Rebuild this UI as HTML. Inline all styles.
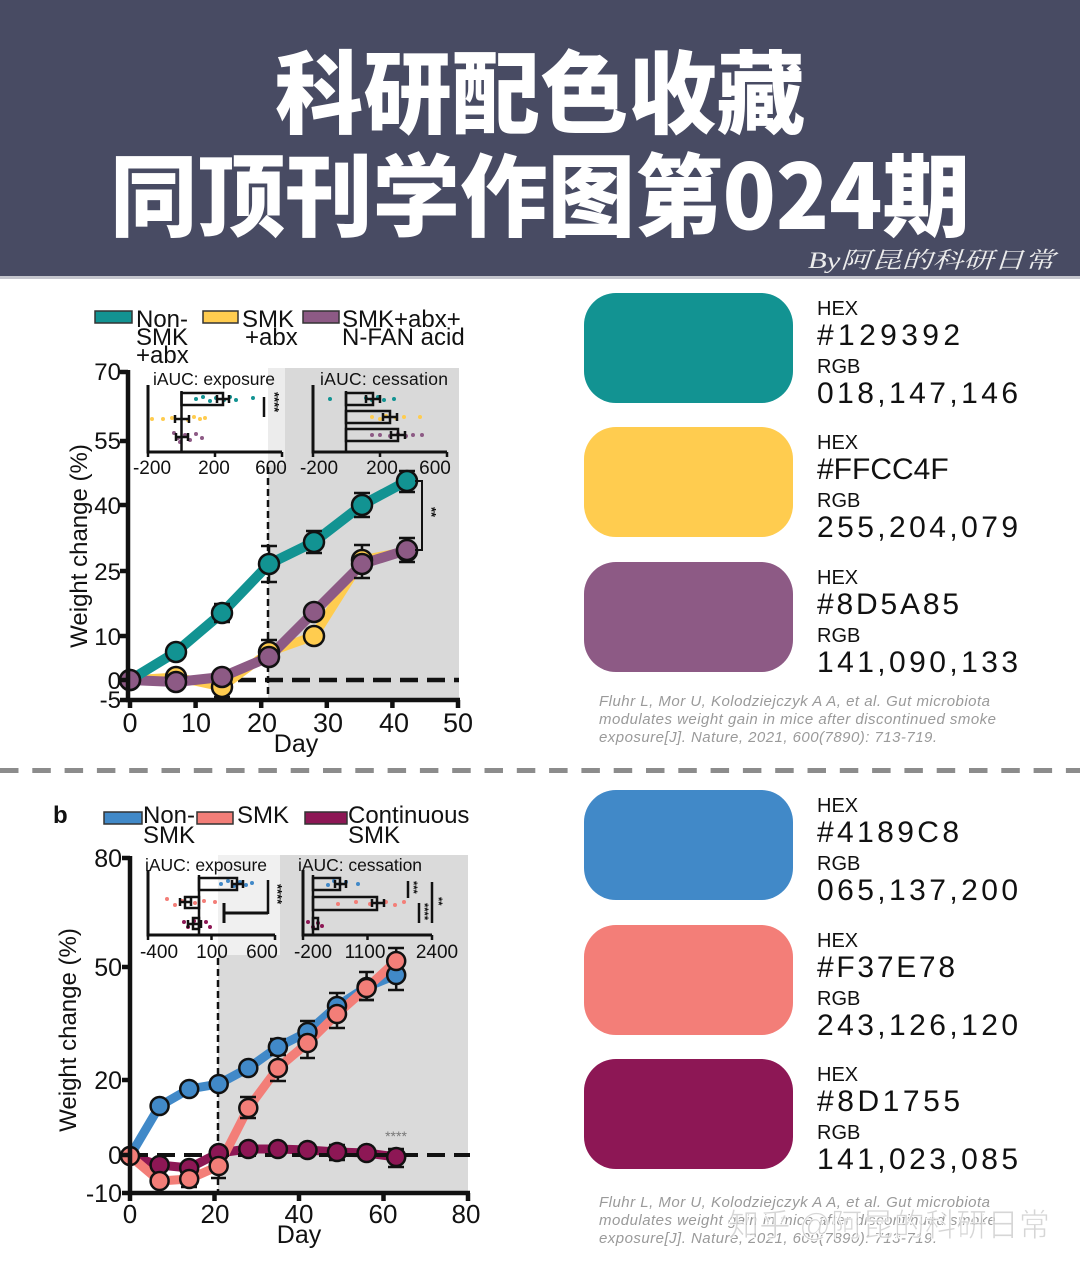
<!DOCTYPE html>
<html><head><meta charset="utf-8"><style>html,body{margin:0;padding:0;background:#fff;}svg{display:block;}</style></head>
<body>
<svg width="1080" height="1269" viewBox="0 0 1080 1269" xmlns="http://www.w3.org/2000/svg" font-family="'Liberation Sans', Arial, sans-serif">
<rect x="0" y="0" width="1080" height="1269" fill="#ffffff"/>
<!-- Header -->
<rect x="0" y="0" width="1080" height="277" fill="#484b63"/>
<rect x="0" y="276" width="1080" height="3" fill="#c4c5cd"/>
<text x="540" y="126" text-anchor="middle" font-family="'Noto Sans CJK SC','WenQuanYi Zen Hei',sans-serif" font-weight="900" font-size="90" fill="#ffffff" textLength="530" lengthAdjust="spacingAndGlyphs">科研配色收藏</text>
<text x="540" y="229" text-anchor="middle" font-family="'Noto Sans CJK SC','WenQuanYi Zen Hei',sans-serif" font-weight="900" font-size="90" fill="#ffffff" textLength="860" lengthAdjust="spacingAndGlyphs">同顶刊学作图第024期</text>
<text x="808" y="268" font-family="'Liberation Serif','Noto Serif CJK SC',serif" font-style="italic" font-size="23" fill="#ececec" textLength="247" lengthAdjust="spacingAndGlyphs">By阿昆的科研日常</text>

<!-- separator -->
<line x1="0" y1="770.5" x2="1080" y2="770.5" stroke="#8c8c8c" stroke-width="5" stroke-dasharray="18.5 13.8"/>

<!-- Swatches -->
<g>
<rect x="584" y="293" width="209" height="110" rx="32" fill="#129392"/>
<rect x="584" y="427" width="209" height="110" rx="32" fill="#FFCC4F"/>
<rect x="584" y="562" width="209" height="110" rx="32" fill="#8D5A85"/>
<rect x="584" y="790" width="209" height="110" rx="32" fill="#4189C8"/>
<rect x="584" y="925" width="209" height="110" rx="32" fill="#F37E78"/>
<rect x="584" y="1059" width="209" height="110" rx="32" fill="#8D1755"/>
</g>
<g fill="#111">
<g font-size="20"><text x="817" y="315">HEX</text><text x="817" y="373">RGB</text>
<text x="817" y="449">HEX</text><text x="817" y="507">RGB</text>
<text x="817" y="584">HEX</text><text x="817" y="642">RGB</text>
<text x="817" y="812">HEX</text><text x="817" y="870">RGB</text>
<text x="817" y="947">HEX</text><text x="817" y="1005">RGB</text>
<text x="817" y="1081">HEX</text><text x="817" y="1139">RGB</text></g>
<g font-size="30">
<text x="817" y="345" textLength="143" lengthAdjust="spacing">#129392</text><text x="817" y="403" textLength="201" lengthAdjust="spacing">018,147,146</text>
<text x="817" y="479">#FFCC4F</text><text x="817" y="537" textLength="201" lengthAdjust="spacing">255,204,079</text>
<text x="817" y="614" textLength="142" lengthAdjust="spacing">#8D5A85</text><text x="817" y="672" textLength="201" lengthAdjust="spacing">141,090,133</text>
<text x="817" y="842" textLength="142" lengthAdjust="spacing">#4189C8</text><text x="817" y="900" textLength="201" lengthAdjust="spacing">065,137,200</text>
<text x="817" y="977" textLength="138" lengthAdjust="spacing">#F37E78</text><text x="817" y="1035" textLength="201" lengthAdjust="spacing">243,126,120</text>
<text x="817" y="1111" textLength="143" lengthAdjust="spacing">#8D1755</text><text x="817" y="1169" textLength="201" lengthAdjust="spacing">141,023,085</text></g>
</g>

<!-- Citations -->
<g font-size="15" font-style="italic" fill="#9a9a9a">
<text x="599" y="706" textLength="391">Fluhr L, Mor U, Kolodziejczyk A A, et al. Gut microbiota</text>
<text x="599" y="724" textLength="397">modulates weight gain in mice after discontinued smoke</text>
<text x="599" y="742" textLength="338">exposure[J]. Nature, 2021, 600(7890): 713-719.</text>
<text x="599" y="1207" textLength="391">Fluhr L, Mor U, Kolodziejczyk A A, et al. Gut microbiota</text>
<text x="599" y="1225" textLength="397">modulates weight gain in mice after discontinued smoke</text>
<text x="599" y="1243" textLength="338">exposure[J]. Nature, 2021, 600(7890): 713-719.</text>
</g>
<text x="728" y="1236" font-family="'Liberation Sans','Noto Sans CJK SC',sans-serif" font-size="32" fill="#c8c8c8" fill-opacity="0.75" stroke="#ffffff" stroke-width="0.8" textLength="322" lengthAdjust="spacingAndGlyphs">知乎 @阿昆的科研日常</text>

<!-- ================= TOP CHART ================= -->
<rect x="95" y="311" width="37" height="12" fill="#129392" stroke="#333" stroke-width="1.5"/>
<rect x="203" y="311" width="35" height="12" fill="#FFCC4F" stroke="#333" stroke-width="1.5"/>
<rect x="303" y="311" width="36" height="12" fill="#8D5A85" stroke="#333" stroke-width="1.5"/>
<g font-size="24" fill="#111">
<text x="136" y="327">Non-</text><text x="136" y="345">SMK</text><text x="136" y="363">+abx</text>
<text x="242" y="327">SMK</text><text x="245" y="345">+abx</text>
<text x="342" y="327">SMK+abx+</text><text x="342" y="345">N-FAN acid</text>
</g>
<rect x="268" y="465" width="191" height="235" fill="#d9d9d9"/>
<rect x="285" y="368" width="174" height="97" fill="#d9d9d9"/>
<rect x="268" y="368" width="17" height="97" fill="#ececec"/>
<!-- inset exposure -->
<text x="153" y="385" font-size="17.5" fill="#111" textLength="122">iAUC: exposure</text>
<g fill="#129392"><circle cx="196" cy="399" r="2"/><circle cx="203" cy="397" r="2"/><circle cx="210" cy="401" r="2"/><circle cx="216" cy="398" r="2"/><circle cx="224" cy="400" r="2"/><circle cx="230" cy="397" r="2"/><circle cx="236" cy="400" r="2"/><circle cx="253" cy="398" r="2"/></g>
<g fill="#FFCC4F"><circle cx="152" cy="419" r="2"/><circle cx="163" cy="419" r="2"/><circle cx="172" cy="418" r="2"/><circle cx="188" cy="420" r="2"/><circle cx="194" cy="417" r="2"/><circle cx="200" cy="419" r="2"/><circle cx="205" cy="418" r="2"/></g>
<g fill="#8D5A85"><circle cx="174" cy="433" r="2"/><circle cx="178" cy="438" r="2"/><circle cx="185" cy="435" r="2"/><circle cx="190" cy="440" r="2"/><circle cx="196" cy="434" r="2"/><circle cx="202" cy="438" r="2"/><circle cx="180" cy="442" r="2"/></g>
<g stroke="#111" fill="none" stroke-width="2.5">
<polyline points="148,385 148,452 282,452" stroke-width="3"/>
<path d="M148,452v5M215,452v5M282,452v5"/>
<line x1="181.5" y1="391" x2="181.5" y2="452"/>
<rect x="181.5" y="393" width="41.5" height="12"/>
<path d="M217,399H229M217,395V403M229,395V403"/>
<path d="M175,419H189M175,415V423M189,415V423"/>
<path d="M176,437H188M176,433V441M188,433V441"/>
<line x1="264" y1="397" x2="264" y2="417"/>
</g>
<text transform="translate(270,392) rotate(90)" font-size="13" font-weight="bold" fill="#111">****</text>
<g font-size="19" fill="#111" text-anchor="middle"><text x="152" y="474">-200</text><text x="214" y="474">200</text><text x="271" y="474">600</text></g>
<!-- inset cessation -->
<text x="320" y="385" font-size="17.5" fill="#111" textLength="128">iAUC: cessation</text>
<g fill="#129392"><circle cx="330" cy="399" r="2"/><circle cx="366" cy="398" r="2"/><circle cx="372" cy="400" r="2"/><circle cx="378" cy="397" r="2"/><circle cx="384" cy="400" r="2"/><circle cx="394" cy="399" r="2"/></g>
<g fill="#FFCC4F"><circle cx="372" cy="417" r="2"/><circle cx="380" cy="419" r="2"/><circle cx="386" cy="416" r="2"/><circle cx="396" cy="418" r="2"/><circle cx="404" cy="417" r="2"/><circle cx="420" cy="417" r="2"/></g>
<g fill="#8D5A85"><circle cx="372" cy="435" r="2"/><circle cx="380" cy="435" r="2"/><circle cx="390" cy="436" r="2"/><circle cx="398" cy="434" r="2"/><circle cx="406" cy="436" r="2"/><circle cx="413" cy="435" r="2"/><circle cx="422" cy="435" r="2"/></g>
<g stroke="#111" fill="none" stroke-width="2.5">
<polyline points="313,385 313,452 447,452" stroke-width="3"/>
<path d="M313,452v5M380,452v5M447,452v5"/>
<line x1="346" y1="391" x2="346" y2="452"/>
<rect x="346" y="393" width="27" height="12"/>
<rect x="346" y="411" width="44" height="12"/>
<rect x="346" y="429" width="52" height="12"/>
<path d="M366,399H380M366,395V403M380,395V403"/>
<path d="M383,417H397M383,413V421M397,413V421"/>
<path d="M391,435H405M391,431V439M405,431V439"/>
</g>
<g font-size="19" fill="#111" text-anchor="middle"><text x="319" y="474">-200</text><text x="382" y="474">200</text><text x="435" y="474">600</text></g>
<line x1="130" y1="680" x2="459" y2="680" stroke="#111" stroke-width="4.5" stroke-dasharray="18 9"/>
<line x1="268" y1="467" x2="268" y2="700" stroke="#111" stroke-width="2.5" stroke-dasharray="7 4"/>
<g fill="none" stroke-linejoin="round" stroke-linecap="round">
<polyline points="130,680 176,677 222,687 269,652 314,636 362,560 407,551" stroke="#FFCC4F" stroke-width="9"/>
<polyline points="130,680 176,682 222,677 269,657 314,612 362,564 407,550" stroke="#8D5A85" stroke-width="10"/>
<polyline points="130,680 176,652 222,613 269,564 314,542 362,505 407,481" stroke="#129392" stroke-width="10"/>
</g>
<g stroke="#111" stroke-width="2.5" fill="none">
<path d="M222,604V622M214,604H230M214,622H230"/>
<path d="M269,546V582M261,546H277M261,582H277"/>
<path d="M314,531V553M306,531H322M306,553H322"/>
<path d="M362,493V517M354,493H370M354,517H370"/>
<path d="M407,471V492M399,471H415M399,492H415"/>
<path d="M222,676V697M214,697H230"/>
<path d="M269,640V666M261,640H277"/>
<path d="M314,629V643M306,629H322M306,643H322"/>
<path d="M362,545V578M354,545H370M354,578H370"/>
<path d="M407,538V562M399,538H415M399,562H415"/>
</g>
<g stroke="#111" stroke-width="2.5">
<circle cx="130" cy="680" r="10" fill="#FFCC4F"/><circle cx="176" cy="677" r="10" fill="#FFCC4F"/><circle cx="222" cy="687" r="10" fill="#FFCC4F"/><circle cx="269" cy="652" r="10" fill="#FFCC4F"/><circle cx="314" cy="636" r="10" fill="#FFCC4F"/><circle cx="362" cy="560" r="10" fill="#FFCC4F"/><circle cx="407" cy="551" r="10" fill="#FFCC4F"/>
<circle cx="130" cy="680" r="10" fill="#8D5A85"/><circle cx="176" cy="682" r="10" fill="#8D5A85"/><circle cx="222" cy="677" r="10" fill="#8D5A85"/><circle cx="269" cy="657" r="10" fill="#8D5A85"/><circle cx="314" cy="612" r="10" fill="#8D5A85"/><circle cx="362" cy="564" r="10" fill="#8D5A85"/><circle cx="407" cy="550" r="10" fill="#8D5A85"/>
<circle cx="176" cy="652" r="10" fill="#129392"/><circle cx="222" cy="613" r="10" fill="#129392"/><circle cx="269" cy="564" r="10" fill="#129392"/><circle cx="314" cy="542" r="10" fill="#129392"/><circle cx="362" cy="505" r="10" fill="#129392"/><circle cx="407" cy="481" r="10" fill="#129392"/>
</g>
<path d="M415,481H422V550H415" stroke="#111" stroke-width="2" fill="none"/>
<text transform="translate(427,507) rotate(90)" font-size="13" font-weight="bold" fill="#111">**</text>
<g stroke="#111" stroke-width="4.5" fill="none">
<line x1="128" y1="370" x2="128" y2="702"/>
<line x1="126" y1="700" x2="460" y2="700"/>
<path d="M120,372H128M120,441H128M120,505H128M120,571H128M120,636H128M120,680H128M120,700H128"/>
<path d="M130,700V708M195.6,700V708M261.2,700V708M326.8,700V708M392.4,700V708M458,700V708"/>
</g>
<g font-size="24" fill="#111" text-anchor="end">
<text x="121" y="380">70</text><text x="121" y="449">55</text><text x="121" y="514">40</text><text x="121" y="580">25</text><text x="121" y="645">10</text><text x="121" y="689">0</text><text x="121" y="708">-5</text>
</g>
<g font-size="27" fill="#111" text-anchor="middle">
<text x="130" y="732">0</text><text x="196" y="732">10</text><text x="262" y="732">20</text><text x="328" y="732">30</text><text x="394" y="732">40</text><text x="458" y="732">50</text>
</g>
<text x="296" y="752" font-size="25" fill="#111" text-anchor="middle">Day</text>
<text transform="translate(87,546) rotate(-90)" font-size="24" fill="#111" text-anchor="middle">Weight change (%)</text>

<!-- ================= BOTTOM CHART ================= -->
<text x="53" y="823" font-size="24" font-weight="bold" fill="#111">b</text>
<rect x="104" y="812" width="38" height="12" fill="#4189C8" stroke="#333" stroke-width="1.5"/>
<rect x="197" y="812" width="36" height="12" fill="#F37E78" stroke="#333" stroke-width="1.5"/>
<rect x="305" y="812" width="42" height="12" fill="#8D1755" stroke="#333" stroke-width="1.5"/>
<g font-size="24" fill="#111">
<text x="143" y="823">Non-</text><text x="143" y="843">SMK</text>
<text x="237" y="823">SMK</text>
<text x="348" y="823">Continuous</text><text x="348" y="843">SMK</text>
</g>
<rect x="218" y="955" width="250" height="238" fill="#dadada"/>
<rect x="280" y="855" width="188" height="100" fill="#dadada"/>
<rect x="218" y="855" width="62" height="100" fill="#f0f0f0"/>
<!-- inset exposure -->
<text x="145" y="871" font-size="17.5" fill="#111" textLength="122">iAUC: exposure</text>
<g fill="#4189C8"><circle cx="221" cy="884" r="2"/><circle cx="228" cy="881" r="2"/><circle cx="234" cy="886" r="2"/><circle cx="240" cy="882" r="2"/><circle cx="246" cy="885" r="2"/><circle cx="252" cy="883" r="2"/></g>
<g fill="#F37E78"><circle cx="167" cy="899" r="2"/><circle cx="175" cy="905" r="2"/><circle cx="182" cy="901" r="2"/><circle cx="195" cy="903" r="2"/><circle cx="204" cy="901" r="2"/><circle cx="215" cy="902" r="2"/></g>
<g fill="#8D1755"><circle cx="184" cy="922" r="2"/><circle cx="188" cy="927" r="2"/><circle cx="194" cy="921" r="2"/><circle cx="200" cy="926" r="2"/><circle cx="206" cy="922" r="2"/><circle cx="210" cy="927" r="2"/></g>
<g stroke="#111" fill="none" stroke-width="2.5">
<polyline points="148,870 148,935 275,935" stroke-width="3"/>
<path d="M148,935v5M211.5,935v5M275,935v5"/>
<line x1="199" y1="875" x2="199" y2="935"/>
<rect x="199" y="878" width="38" height="12"/>
<rect x="185" y="897" width="14" height="11"/>
<rect x="193" y="918" width="6" height="11"/>
<path d="M232,884H243M232,880V888M243,880V888"/>
<path d="M180,902H191M180,898V906M191,898V906"/>
<path d="M188,924H201M188,920V928M201,920V928"/>
<line x1="268" y1="880" x2="268" y2="914"/>
<path d="M224,903V923M224,913H268" stroke-width="3"/>
</g>
<text transform="translate(273,884) rotate(90)" font-size="13" font-weight="bold" fill="#111">****</text>
<g font-size="19" fill="#111" text-anchor="middle"><text x="159" y="958">-400</text><text x="212" y="958">100</text><text x="262" y="958">600</text></g>
<!-- inset cessation -->
<text x="298" y="871" font-size="17.5" fill="#111" textLength="124">iAUC: cessation</text>
<g fill="#4189C8"><circle cx="328" cy="885" r="2"/><circle cx="334" cy="881" r="2"/><circle cx="340" cy="884" r="2"/><circle cx="346" cy="882" r="2"/><circle cx="358" cy="884" r="2"/></g>
<g fill="#F37E78"><circle cx="338" cy="904" r="2"/><circle cx="356" cy="902" r="2"/><circle cx="370" cy="904" r="2"/><circle cx="386" cy="902" r="2"/><circle cx="395" cy="905" r="2"/><circle cx="404" cy="902" r="2"/></g>
<g fill="#8D1755"><circle cx="308" cy="922" r="2"/><circle cx="313" cy="927" r="2"/><circle cx="318" cy="923" r="2"/><circle cx="322" cy="926" r="2"/></g>
<g stroke="#111" fill="none" stroke-width="2.5">
<polyline points="303,870 303,935 432,935" stroke-width="3"/>
<path d="M303,935v5M367.5,935v5M432,935v5"/>
<line x1="313" y1="875" x2="313" y2="935"/>
<rect x="313" y="878" width="27" height="12"/>
<rect x="313" y="897" width="64" height="13"/>
<rect x="313" y="918" width="5" height="11"/>
<path d="M335,884H346M335,880V888M346,880V888"/>
<path d="M372,903H384M372,899V907M384,899V907"/>
<line x1="408" y1="881" x2="408" y2="898"/>
<line x1="419" y1="903" x2="419" y2="923"/>
<line x1="432" y1="882" x2="432" y2="923"/>
</g>
<text transform="translate(410,881) rotate(90)" font-size="11" font-weight="bold" fill="#111">***</text>
<text transform="translate(421,903) rotate(90)" font-size="11" font-weight="bold" fill="#111">****</text>
<text transform="translate(435,897) rotate(90)" font-size="11" font-weight="bold" fill="#111">**</text>
<g font-size="19" fill="#111" text-anchor="middle"><text x="313" y="958">-200</text><text x="365" y="958">1100</text><text x="437" y="958">2400</text></g>
<line x1="218" y1="958" x2="218" y2="1193" stroke="#111" stroke-width="2.5" stroke-dasharray="7 4"/>
<g fill="none" stroke-linejoin="round" stroke-linecap="round">
<polyline points="130,1156 159.6,1106 189.2,1089 218.7,1084 248.3,1068 277.9,1047 307.5,1032 337,1006 366.6,987 396.2,975" stroke="#4189C8" stroke-width="9"/>
<polyline points="130,1156 159.6,1165 189.2,1168 218.7,1153 248.3,1149 277.9,1149 307.5,1150 337,1152 366.6,1153 396.2,1157" stroke="#8D1755" stroke-width="9"/>
<polyline points="130,1156 159.6,1181 189.2,1179 218.7,1166 248.3,1108 277.9,1068 307.5,1043 337,1014 366.6,988 396.2,961" stroke="#F37E78" stroke-width="9"/>
</g>
<line x1="130" y1="1155" x2="470" y2="1155" stroke="#111" stroke-width="4" stroke-dasharray="18 9"/>
<g stroke="#111" stroke-width="2.5" fill="none">
<path d="M277.9,1039V1055M270,1039H286M270,1055H286"/>
<path d="M307.5,1021V1043M300,1021H315M300,1043H315"/>
<path d="M337,993V1019M329,993H345M329,1019H345"/>
<path d="M366.6,972V1000M359,972H374M359,1000H374"/>
<path d="M396.2,960V990M388,960H404M388,990H404"/>
<path d="M189.2,1172V1187M181,1187H197"/>
<path d="M218.7,1150V1178M211,1150H226M211,1178H226"/>
<path d="M248.3,1097V1118M240,1097H256M240,1118H256"/>
<path d="M277.9,1055V1081M270,1081H286"/>
<path d="M307.5,1028V1058M300,1058H315"/>
<path d="M337,1000V1028M329,1028H345"/>
<path d="M366.6,976V1000M359,1000H374"/>
<path d="M396.2,948V965M388,948H404"/>
<path d="M248.3,1144V1156M240,1144H256"/>
<path d="M277.9,1144V1155M270,1144H286"/>
<path d="M307.5,1144V1156M300,1144H315"/>
<path d="M337,1145V1160M329,1145H345M329,1160H345"/>
<path d="M366.6,1147V1160M359,1147H374"/>
<path d="M396.2,1149V1167M388,1149H404M388,1167H404"/>
</g>
<g stroke="#111" stroke-width="2.5">
<circle cx="159.6" cy="1106" r="9" fill="#4189C8"/><circle cx="189.2" cy="1089" r="9" fill="#4189C8"/><circle cx="218.7" cy="1084" r="9" fill="#4189C8"/><circle cx="248.3" cy="1068" r="9" fill="#4189C8"/><circle cx="277.9" cy="1047" r="9" fill="#4189C8"/><circle cx="307.5" cy="1032" r="9" fill="#4189C8"/><circle cx="337" cy="1006" r="9" fill="#4189C8"/><circle cx="366.6" cy="987" r="9" fill="#4189C8"/><circle cx="396.2" cy="975" r="9" fill="#4189C8"/>
<circle cx="159.6" cy="1165" r="9" fill="#8D1755"/><circle cx="189.2" cy="1168" r="9" fill="#8D1755"/><circle cx="218.7" cy="1153" r="9" fill="#8D1755"/><circle cx="248.3" cy="1149" r="9" fill="#8D1755"/><circle cx="277.9" cy="1149" r="9" fill="#8D1755"/><circle cx="307.5" cy="1150" r="9" fill="#8D1755"/><circle cx="337" cy="1152" r="9" fill="#8D1755"/><circle cx="366.6" cy="1153" r="9" fill="#8D1755"/><circle cx="396.2" cy="1157" r="9" fill="#8D1755"/>
<circle cx="130" cy="1156" r="9" fill="#F37E78"/><circle cx="159.6" cy="1181" r="9" fill="#F37E78"/><circle cx="189.2" cy="1179" r="9" fill="#F37E78"/><circle cx="218.7" cy="1166" r="9" fill="#F37E78"/><circle cx="248.3" cy="1108" r="9" fill="#F37E78"/><circle cx="277.9" cy="1068" r="9" fill="#F37E78"/><circle cx="307.5" cy="1043" r="9" fill="#F37E78"/><circle cx="337" cy="1014" r="9" fill="#F37E78"/><circle cx="366.6" cy="988" r="9" fill="#F37E78"/><circle cx="396.2" cy="961" r="9" fill="#F37E78"/>
</g>
<text x="396" y="1141" font-size="14" fill="#777" text-anchor="middle">****</text>
<g stroke="#111" stroke-width="4.5" fill="none">
<line x1="130" y1="856" x2="130" y2="1195"/>
<line x1="128" y1="1193" x2="470" y2="1193"/>
<path d="M122,858H130M122,967H130M122,1080H130M122,1155H130M122,1193H130"/>
<path d="M130,1193V1201M214.5,1193V1201M299,1193V1201M383.5,1193V1201M468,1193V1201"/>
</g>
<g font-size="25" fill="#111" text-anchor="end">
<text x="122" y="867">80</text><text x="122" y="976">50</text><text x="122" y="1089">20</text><text x="122" y="1164">0</text><text x="122" y="1202">-10</text>
</g>
<g font-size="26" fill="#111" text-anchor="middle">
<text x="130" y="1223">0</text><text x="215" y="1223">20</text><text x="299" y="1223">40</text><text x="383" y="1223">60</text><text x="466" y="1223">80</text>
</g>
<text x="299" y="1243" font-size="25" fill="#111" text-anchor="middle">Day</text>
<text transform="translate(76,1030) rotate(-90)" font-size="24" fill="#111" text-anchor="middle">Weight change (%)</text>
</svg>
</body></html>
